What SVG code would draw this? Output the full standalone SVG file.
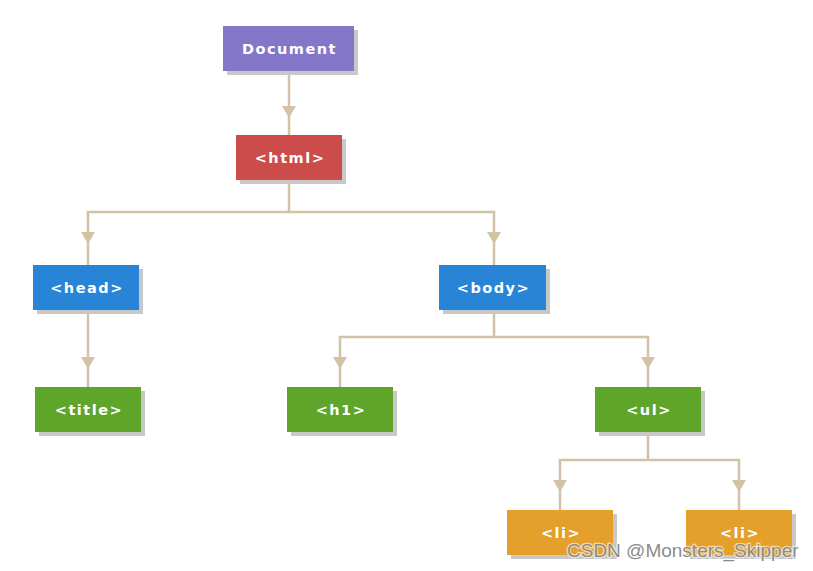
<svg xmlns="http://www.w3.org/2000/svg" width="813" height="571" viewBox="0 0 813 571">
<style>
.sh{fill:#c8c8c8}
.lbl{font-family:"DejaVu Sans",Verdana,sans-serif;font-weight:bold;font-size:14.5px;fill:#ffffff;letter-spacing:1.5px;text-anchor:middle}
.ln{stroke:#d3c3a6;stroke-width:2.5;fill:none}
.ah{fill:#d3c3a6}
.wm{font-family:"Liberation Sans",Arial,sans-serif;font-size:19px;fill:#8c8c8c;stroke:#ffffff;stroke-width:2.5;stroke-opacity:0.6;paint-order:stroke}
</style>
<rect width="813" height="571" fill="#ffffff"/>
<g id="connectors">
<path class="ln" d="M289 71V135"/>
<polygon class="ah" points="282,106 296,106 289,118"/>
<path class="ln" d="M289 180V212H88V265M289 212H494V265"/>
<polygon class="ah" points="81,232 95,232 88,244"/>
<polygon class="ah" points="487,232 501,232 494,244"/>
<path class="ln" d="M88 310V387"/>
<polygon class="ah" points="81,357 95,357 88,369"/>
<path class="ln" d="M494 310V337H340V387M494 337H648V387"/>
<polygon class="ah" points="333,357 347,357 340,369"/>
<polygon class="ah" points="641,357 655,357 648,369"/>
<path class="ln" d="M648 432V460H560V510M648 460H739V510"/>
<polygon class="ah" points="553,480 567,480 560,492"/>
<polygon class="ah" points="732,480 746,480 739,492"/>
</g>
<g id="document">
<rect class="sh" x="227" y="30" width="131" height="45"/>
<rect x="223" y="26" width="131" height="45" fill="#8476c8"/>
<text class="lbl" x="289.5" y="54">Document</text>
</g>
<g id="html">
<rect class="sh" x="240" y="139" width="106" height="45"/>
<rect x="236" y="135" width="106" height="45" fill="#cc4c4c"/>
<text class="lbl" x="290" y="163">&lt;html&gt;</text>
</g>
<g id="head">
<rect class="sh" x="37" y="269" width="106" height="45"/>
<rect x="33" y="265" width="106" height="45" fill="#2784d6"/>
<text class="lbl" x="87" y="293">&lt;head&gt;</text>
</g>
<g id="body">
<rect class="sh" x="443" y="269" width="107" height="45"/>
<rect x="439" y="265" width="107" height="45" fill="#2784d6"/>
<text class="lbl" x="493.5" y="293">&lt;body&gt;</text>
</g>
<g id="title">
<rect class="sh" x="39" y="391" width="106" height="45"/>
<rect x="35" y="387" width="106" height="45" fill="#5fa52a"/>
<text class="lbl" x="89" y="415">&lt;title&gt;</text>
</g>
<g id="h1">
<rect class="sh" x="291" y="391" width="106" height="45"/>
<rect x="287" y="387" width="106" height="45" fill="#5fa52a"/>
<text class="lbl" x="341" y="415">&lt;h1&gt;</text>
</g>
<g id="ul">
<rect class="sh" x="599" y="391" width="106" height="45"/>
<rect x="595" y="387" width="106" height="45" fill="#5fa52a"/>
<text class="lbl" x="649" y="415">&lt;ul&gt;</text>
</g>
<g id="li1">
<rect class="sh" x="511" y="514" width="106" height="45"/>
<rect x="507" y="510" width="106" height="45" fill="#e4a02a"/>
<text class="lbl" x="561" y="538">&lt;li&gt;</text>
</g>
<g id="li2">
<rect class="sh" x="690" y="514" width="106" height="45"/>
<rect x="686" y="510" width="106" height="45" fill="#e4a02a"/>
<text class="lbl" x="740" y="538">&lt;li&gt;</text>
</g>
<text class="wm" x="567" y="557">CSDN @Monsters_Skipper</text>
</svg>
